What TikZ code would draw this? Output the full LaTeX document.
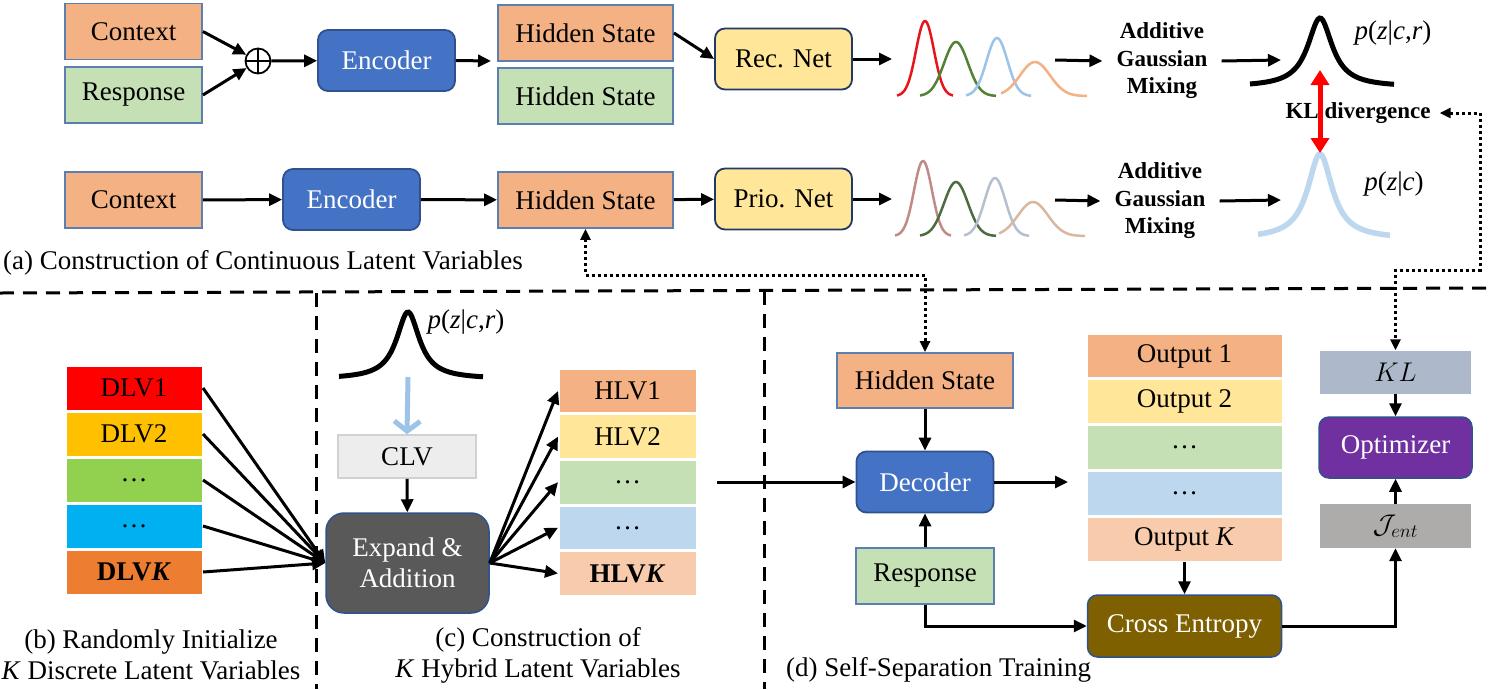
\documentclass[tikz,border=0pt]{standalone}
\usepackage{fix-cm}
\usepackage{amsmath}
\usepackage{amssymb}
\usepackage{fontspec}
\setmainfont{Liberation Serif}
\usepackage{tikz}
\usetikzlibrary{arrows.meta,positioning}
\definecolor{ctxorange}{HTML}{F4B183}
\definecolor{rspgreen}{HTML}{C5E0B4}
\definecolor{encblue}{HTML}{4472C4}
\definecolor{netyellow}{HTML}{FFE699}
\definecolor{edgeblue}{HTML}{5B7FAE}
\definecolor{darkedge}{HTML}{2F528F}
\definecolor{lightblue}{HTML}{BDD7EE}
\definecolor{arrowblue}{HTML}{9DC3E6}
\definecolor{dlvred}{HTML}{FF0000}
\definecolor{dlvamber}{HTML}{FFC000}
\definecolor{dlvgreen}{HTML}{92D050}
\definecolor{dlvcyan}{HTML}{00B0F0}
\definecolor{dlvorange}{HTML}{ED7D31}
\definecolor{hlvpeach}{HTML}{F8CBAD}
\definecolor{clvgray}{HTML}{EDEDED}
\definecolor{expgray}{HTML}{595959}
\definecolor{cebrown}{HTML}{7F6000}
\definecolor{klgray}{HTML}{ADB9CA}
\definecolor{optpurple}{HTML}{7030A0}
\definecolor{jgray}{HTML}{AEABAB}
\definecolor{gred}{HTML}{E8141B}
\definecolor{ggreen}{HTML}{548235}
\definecolor{gblue}{HTML}{9DC3E6}
\definecolor{gorange}{HTML}{F4B183}
\definecolor{pred}{HTML}{C28A86}
\definecolor{pgreen}{HTML}{4F6B40}
\definecolor{pblue}{HTML}{B4C0CF}
\definecolor{porange}{HTML}{D9B8A2}
\tikzstyle{plainbox} = [draw=edgeblue, line width=1.8pt, rectangle,
    minimum width=137pt, minimum height=56pt, inner sep=0pt]
\tikzstyle{roundbox} = [draw=darkedge, line width=1.8pt, rectangle, rounded corners=10pt,
    minimum width=137pt, minimum height=61pt, inner sep=0pt]
\tikzstyle{netbox} = [roundbox, draw=darkedge!70!black, fill=netyellow]
\tikzstyle{stackbox} = [draw=white, line width=3pt, rectangle, outer sep=0pt,
    minimum width=138pt, minimum height=46pt, inner sep=0pt]
\tikzstyle{flatbox} = [rectangle, minimum width=151pt, minimum height=43pt, inner sep=0pt]
\tikzstyle{arr} = [line width=3pt, -{Triangle[length=13pt,width=12pt]}]
\tikzstyle{dotarr} = [line width=3pt, dash pattern=on 3pt off 3pt,
    {Triangle[length=11pt,width=10pt]}-{Triangle[length=11pt,width=10pt]}]
\tikzstyle{sepline} = [line width=3pt, dash pattern=on 14pt off 9pt]
\tikzstyle{boldlabel} = [font=\fontsize{23}{27.5}\selectfont\bfseries, align=center, inner xsep=14pt]
\begin{document}
\begin{tikzpicture}[x=1pt,y=-1pt,font=\fontsize{27}{31}\selectfont]
                \useasboundingbox (0,0) rectangle (1490,689);
                \fill[white] (0,0) rectangle (1490,689);
                % (a) posterior branch
                \node [plainbox, fill=ctxorange] (ctx1) at (133.5,31.5) {Context};
                \node [plainbox, fill=rspgreen] (rsp1) at (133.5,95) {Response};
                \node [circle, draw, line width=1.8pt, minimum size=25pt, inner sep=0pt] (plus) at (258,61) {};
                \draw[line width=1.8pt] (plus.north) -- (plus.south) (plus.west) -- (plus.east);
                \node [roundbox, fill=encblue, text=white] (enc1) at (386.5,60.5) {Encoder};
                \node [plainbox, fill=ctxorange, minimum width=175pt] (hs1) at (585.5,33) {Hidden State};
                \node [plainbox, fill=rspgreen, minimum width=175pt] (hs2) at (585.5,96) {Hidden State};
                \coordinate (hsgap) at (491,61);
                \node [netbox] (rec) at (783.5,59) {Rec. Net};
                \coordinate (gin1) at (892,59);
                \draw[arr] (ctx1.east) -- (plus);
                \draw[arr] (rsp1.east) -- (plus);
                \draw[arr] (plus) -- (enc1);
                \draw[arr] (enc1.east) -- (hsgap);
                \draw[arr] (hs1.east) -- (rec.west);
                \draw[arr] (rec.east) -- (gin1);
                \draw[gred, line width=2.5pt] plot[domain=-28:28, samples=60] ({925+\x},{96-75*exp(-\x*\x/162)});
                \draw[ggreen, line width=2.5pt] plot[domain=-36:40, samples=60] ({956+\x},{96-54*exp(-\x*\x/288)});
                \draw[gblue, line width=2.5pt] plot[domain=-31:34, samples=60] ({997+\x},{96-58*exp(-\x*\x/220)});
                \draw[gorange, line width=2.5pt] plot[domain=-34:52, samples=60] ({1035+\x},{96-34*exp(-\x*\x/450)});
                \coordinate (gout1) at (1055,60);
                \node [boldlabel] (agm1) at (1162,61) {Additive\\Gaussian\\Mixing};
                \coordinate (bell1) at (1281,60);
                \draw[arr] (gout1) -- (agm1.west);
                \draw[arr] (agm1.east) -- (bell1);
                \draw[line width=5pt] plot[domain=-70:74, samples=90] ({1320+\x},{87-69/(1+\x*\x/225)});
                \node (pzcr) at (1393,33) {\textit{p}(\textit{z}|\textit{c},\textit{r})};
                % (a) prior branch
                \node [plainbox, fill=ctxorange] (ctx2) at (133.5,200) {Context};
                \node [roundbox, fill=encblue, text=white] (enc2) at (351.5,199.5) {Encoder};
                \node [plainbox, fill=ctxorange, minimum width=175pt] (hs3) at (585.5,200) {Hidden State};
                \node [netbox] (prio) at (783.5,199) {Prio. Net};
                \coordinate (gin2) at (892,199);
                \draw[arr] (ctx2) -- (enc2);
                \draw[arr] (enc2) -- (hs3);
                \draw[arr] (hs3) -- (prio);
                \draw[arr] (prio.east) -- (gin2);
                \draw[pred, line width=2.5pt] plot[domain=-28:28, samples=60] ({923+\x},{236-75*exp(-\x*\x/162)});
                \draw[pgreen, line width=2.5pt] plot[domain=-36:40, samples=60] ({956+\x},{236-54*exp(-\x*\x/288)});
                \draw[pblue, line width=2.5pt] plot[domain=-31:34, samples=60] ({995+\x},{236-58*exp(-\x*\x/220)});
                \draw[porange, line width=2.5pt] plot[domain=-34:52, samples=60] ({1033+\x},{236-34*exp(-\x*\x/450)});
                \coordinate (gout2) at (1055,200);
                \node [boldlabel] (agm2) at (1160,201) {Additive\\Gaussian\\Mixing};
                \coordinate (bell2) at (1281,200);
                \draw[arr] (gout2) -- (agm2.west);
                \draw[arr] (agm2.east) -- (bell2);
                \draw[lightblue, line width=5.5pt] plot[domain=-62:70, samples=90] ({1320+\x},{239-85/(1+\x*\x/225)});
                \node (pzc) at (1394,184) {\textit{p}(\textit{z}|\textit{c})};
                \node [boldlabel, inner xsep=9pt] (kldiv) at (1358,113) {KL divergence};
                \coordinate (kltop) at (1320,70);
                \coordinate (klbot) at (1320,153);
                \draw[red, line width=5pt, {Triangle[length=15pt,width=18pt]}-{Triangle[length=15pt,width=18pt]}] (kltop) -- (klbot);
                \node [anchor=west, inner sep=0pt] (capa) at (3,263) {(a) Construction of Continuous Latent Variables};
                % separators
                \draw[sepline] (0,293) -- (1490,288);
                \draw[sepline] (316,293) -- (316,689);
                \draw[sepline] (764,291) -- (764,689);
                % (b) discrete latent variables
                \node [stackbox, fill=dlvred] (dlv1) at (134,388) {DLV1};
                \node [stackbox, fill=dlvamber, below=0pt of dlv1] (dlv2) {DLV2};
                \node [stackbox, fill=dlvgreen, below=0pt of dlv2] (dlv3) {\ldots};
                \node [stackbox, fill=dlvcyan, below=0pt of dlv3] (dlv4) {\ldots};
                \node [stackbox, fill=dlvorange, below=0pt of dlv4] (dlv5) {\textbf{DLV\textit{K}}};
                \node [align=center] (capb) at (151,655) {(b) Randomly Initialize\\\textit{K} Discrete Latent Variables};
                % (c) hybrid latent variables
                \draw[line width=5pt] plot[domain=-69:75, samples=90] ({408+\x},{379-67/(1+\x*\x/196)});
                \node (pzcr2) at (466,322) {\textit{p}(\textit{z}|\textit{c},\textit{r})};
                \node [rectangle, draw=black!18, line width=1.5pt, fill=clvgray, minimum width=138pt,
                    minimum height=43pt, inner sep=0pt] (clv) at (407,456.5) {CLV};
                \coordinate (bellfoot) at (408,377);
                \draw[arrowblue, line width=5pt, -{Straight Barb[length=10pt,width=26pt]}] (bellfoot) -- (clv.north);
                \node [roundbox, fill=expgray, text=white, minimum width=163pt, minimum height=100pt,
                    rounded corners=18pt, line width=1.5pt, align=center] (expand) at (407.5,563) {Expand \&\\Addition};
                \draw[arr] (clv) -- (expand);
                \draw[arr] (dlv1.east) -- (expand.west);
                \draw[arr] (dlv2.east) -- (expand.west);
                \draw[arr] (dlv3.east) -- (expand.west);
                \draw[arr] (dlv4.east) -- (expand.west);
                \draw[arr] (dlv5.east) -- (expand.west);
                \node [stackbox, fill=ctxorange, minimum width=139pt, minimum height=45.6pt] (hlv1) at (627.5,391) {HLV1};
                \node [stackbox, fill=netyellow, minimum width=139pt, minimum height=45.6pt, below=0pt of hlv1] (hlv2) {HLV2};
                \node [stackbox, fill=rspgreen, minimum width=139pt, minimum height=45.6pt, below=0pt of hlv2] (hlv3) {\ldots};
                \node [stackbox, fill=lightblue, minimum width=139pt, minimum height=45.6pt, below=0pt of hlv3] (hlv4) {\ldots};
                \node [stackbox, fill=hlvpeach, minimum width=139pt, minimum height=45.6pt, below=0pt of hlv4] (hlv5) {\textbf{HLV\textit{K}}};
                \draw[arr] (expand.east) -- (hlv1.west);
                \draw[arr] (expand.east) -- (hlv2.west);
                \draw[arr] (expand.east) -- (hlv3.west);
                \draw[arr] (expand.east) -- (hlv4.west);
                \draw[arr] (expand.east) -- (hlv5.west);
                \node [align=center] (capc) at (538,655) {(c) Construction of\\\textit{K} Hybrid Latent Variables};
                % (d) self-separation training
                \node [plainbox, fill=ctxorange, minimum width=176pt, minimum height=55pt] (hs4) at (925,380.5) {Hidden State};
                \node [roundbox, fill=encblue, text=white] (dec) at (925,482) {Decoder};
                \node [plainbox, fill=rspgreen, minimum width=138pt] (rsp2) at (925,576) {Response};
                \coordinate (hlvout) at (717,482);
                \coordinate (decout) at (1068,482);
                \draw[arr] (hlvout) -- (dec.west);
                \draw[arr] (dec.east) -- (decout);
                \draw[arr] (hs4) -- (dec);
                \draw[arr] (rsp2) -- (dec);
                \node [stackbox, fill=ctxorange, minimum width=197pt, minimum height=45.8pt] (out1) at (1184.5,356) {Output 1};
                \node [stackbox, fill=netyellow, minimum width=197pt, minimum height=45.8pt, below=0pt of out1] (out2) {Output 2};
                \node [stackbox, fill=rspgreen, minimum width=197pt, minimum height=45.8pt, below=0pt of out2] (out3) {\ldots};
                \node [stackbox, fill=lightblue, minimum width=197pt, minimum height=45.8pt, below=0pt of out3] (out4) {\ldots};
                \node [stackbox, fill=hlvpeach, minimum width=197pt, minimum height=45.8pt, below=0pt of out4] (out5) {Output \textit{K}};
                \node [roundbox, fill=cebrown, text=white, minimum width=194pt, minimum height=62pt, line width=1.5pt] (ce) at (1184.5,626) {Cross Entropy};
                \draw[arr] (out5.south) -- (ce.north);
                \draw[arr] (rsp2.south) |- (ce.west);
                \node [flatbox, fill=klgray] (klb) at (1395.5,372) {$KL$};
                \node [roundbox, fill=optpurple, text=white, minimum width=153pt, line width=1.5pt] (opt) at (1395.5,447.5) {Optimizer};
                \node [flatbox, fill=jgray, minimum height=44pt] (jent) at (1395.5,526) {$\mathcal{J}_{ent}$};
                \draw[arr] (klb) -- (opt);
                \draw[arr] (jent) -- (opt);
                \draw[arr] (ce.east) -| (jent.south);
                \node [anchor=west, inner sep=0pt] (capd) at (786,670) {(d) Self-Separation Training};
                % dotted links
                \draw[dotarr] (hs3.south) |- (925,275) -- (hs4.north);
                \draw[dotarr] (kldiv.east) -| (1480,270) -| (klb.north);
\end{tikzpicture}
\end{document}
